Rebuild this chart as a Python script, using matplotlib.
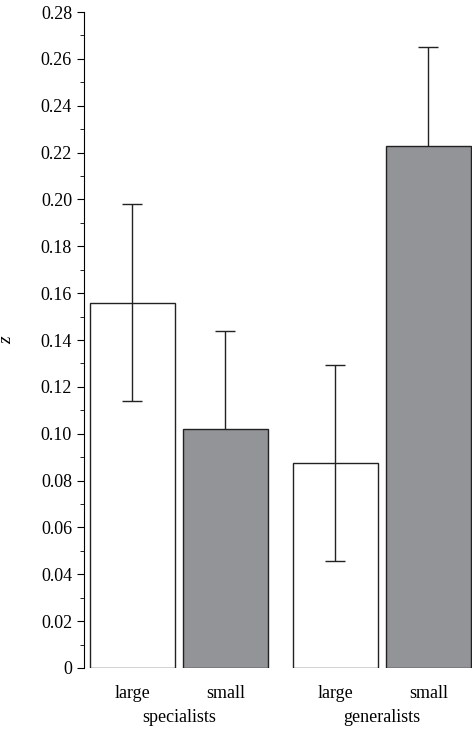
import matplotlib as mpl
mpl.use('Agg')
import matplotlib.pyplot as plt
from matplotlib.ticker import MultipleLocator

plt.rcParams['font.family'] = ['Liberation Serif', 'DejaVu Serif']

sizes = ['large', 'small', 'large', 'small']
groups = ['specialists', 'generalists']
values = [0.156, 0.102, 0.0875, 0.223]
errors = [0.042, 0.042, 0.042, 0.042]
colors = ['none', '#929497', 'none', '#929497']
positions = [0, 1, 2.18, 3.18]

fig = plt.figure(figsize=(4.74, 7.29), dpi=100)
ax = fig.add_axes([0.177, 0.0837, 0.819, 0.8998])

# error bars sit behind the bars; white bars are open so the lower half shows
ax.errorbar(positions, values, yerr=errors, fmt='none', ecolor='#222222',
            elinewidth=1.0, capsize=7, capthick=1.0, zorder=1)
ax.bar(positions, values, width=0.91, color=colors, edgecolor='#222222',
       linewidth=1.0, zorder=2)

ax.set_xlim(-0.52, 3.65)
ax.set_ylim(0, 0.28)
ax.yaxis.set_minor_locator(MultipleLocator(0.01))
ax.set_yticks([i * 0.02 for i in range(15)])
ax.set_yticklabels(['0'] + ['%.2f' % (i * 0.02) for i in range(1, 15)], fontsize=13)
ax.tick_params(axis='y', which='major', direction='out', length=5)
ax.tick_params(axis='y', which='minor', direction='out', length=3)
ax.set_xticks(positions)
ax.set_xticklabels(sizes, fontsize=13)
ax.tick_params(axis='x', length=0, pad=12)

for s in ['top', 'right', 'bottom']:
    ax.spines[s].set_visible(False)

ax.set_ylabel('z', fontsize=14, style='italic', labelpad=18)

for i, g in enumerate(groups):
    cx = (positions[2 * i] + positions[2 * i + 1]) / 2
    ax.annotate(g, xy=(cx, 0), xycoords=('data', 'axes fraction'),
                xytext=(0, -36), textcoords='offset points', ha='center',
                va='center', fontsize=13)

fig.savefig('out.png', dpi=100)
